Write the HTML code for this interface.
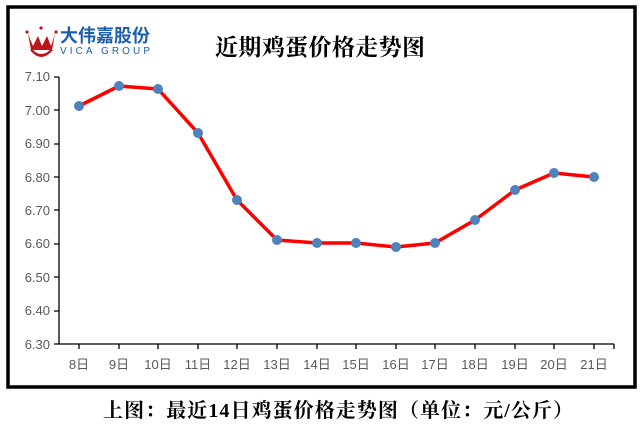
<!DOCTYPE html>
<html><head><meta charset="utf-8"><style>
body{margin:0;width:641px;height:425px;background:#fff;overflow:hidden}
</style></head><body>
<svg width="641" height="425" xmlns="http://www.w3.org/2000/svg">
<rect x="8" y="7" width="627" height="380" fill="#fff" stroke="#000" stroke-width="3.5"/>
<!-- logo -->
<g fill="#c0141c">
<path d="M28 34 L33 46 L38 36 L42 46 L47 36 L51 46 L55 34 L52 50 L31 50 Z"/>
<circle cx="27" cy="32" r="1.6"/><circle cx="41" cy="28" r="1.6"/><circle cx="56" cy="32" r="1.6"/>
<path d="M30 50 Q41 64 53 50 L50 50 Q41 58 33 50 Z"/>
</g>
<text x="60" y="42" font-family="'Liberation Sans','Noto Sans CJK SC',sans-serif" font-size="18" font-weight="bold" fill="#1c5fae" textLength="90">大伟嘉股份</text>
<text x="60" y="54" font-family="'Liberation Sans',sans-serif" font-size="10" fill="#1c5fae" textLength="90">VICA GROUP</text>
<text x="320" y="55" text-anchor="middle" font-family="'Liberation Serif','Noto Serif CJK SC',serif" font-size="23" font-weight="bold" fill="#000" textLength="210">近期鸡蛋价格走势图</text>
<g font-family="'Liberation Sans','Noto Sans CJK SC',sans-serif" font-size="13" fill="#595959">
<g text-anchor="end">
<text x="50" y="81">7.10</text><text x="50" y="115">7.00</text><text x="50" y="148">6.90</text><text x="50" y="182">6.80</text><text x="50" y="215">6.70</text><text x="50" y="248">6.60</text><text x="50" y="282">6.50</text><text x="50" y="315">6.40</text><text x="50" y="349">6.30</text>
</g>
<g text-anchor="middle">
<text x="79" y="369">8日</text><text x="119" y="369">9日</text><text x="158" y="369">10日</text><text x="198" y="369">11日</text><text x="237" y="369">12日</text><text x="277" y="369">13日</text><text x="317" y="369">14日</text><text x="356" y="369">15日</text><text x="396" y="369">16日</text><text x="435" y="369">17日</text><text x="475" y="369">18日</text><text x="515" y="369">19日</text><text x="554" y="369">20日</text><text x="594" y="369">21日</text>
</g></g>
<g stroke="#000" stroke-width="1.3" fill="none">
<path d="M59 77 V344 H614"/>
<path d="M54 77H59M54 110H59M54 144H59M54 177H59M54 210H59M54 244H59M54 277H59M54 311H59M54 344H59"/>
<path d="M79 344v5M119 344v5M158 344v5M198 344v5M237 344v5M277 344v5M317 344v5M356 344v5M396 344v5M435 344v5M475 344v5M515 344v5M554 344v5M594 344v5M614 344v5"/>
</g>
<polyline fill="none" stroke="#ff0000" stroke-width="3.5" stroke-linejoin="round" points="79,106 119,86 158,89 198,133 237,200 277,240 317,243 356,243 396,247 435,243 475,220 515,190 554,173 594,177"/>
<g fill="#4f81bd">
<circle cx="79" cy="106" r="5"/><circle cx="119" cy="86" r="5"/><circle cx="158" cy="89" r="5"/><circle cx="198" cy="133" r="5"/><circle cx="237" cy="200" r="5"/><circle cx="277" cy="240" r="5"/><circle cx="317" cy="243" r="5"/><circle cx="356" cy="243" r="5"/><circle cx="396" cy="247" r="5"/><circle cx="435" cy="243" r="5"/><circle cx="475" cy="220" r="5"/><circle cx="515" cy="190" r="5"/><circle cx="554" cy="173" r="5"/><circle cx="594" cy="177" r="5"/>
</g>
<text x="338" y="417" text-anchor="middle" font-family="'Liberation Serif','Noto Serif CJK SC',serif" font-size="20" font-weight="bold" fill="#000" textLength="470">上图：最近14日鸡蛋价格走势图（单位：元/公斤）</text>
</svg>
</body></html>
